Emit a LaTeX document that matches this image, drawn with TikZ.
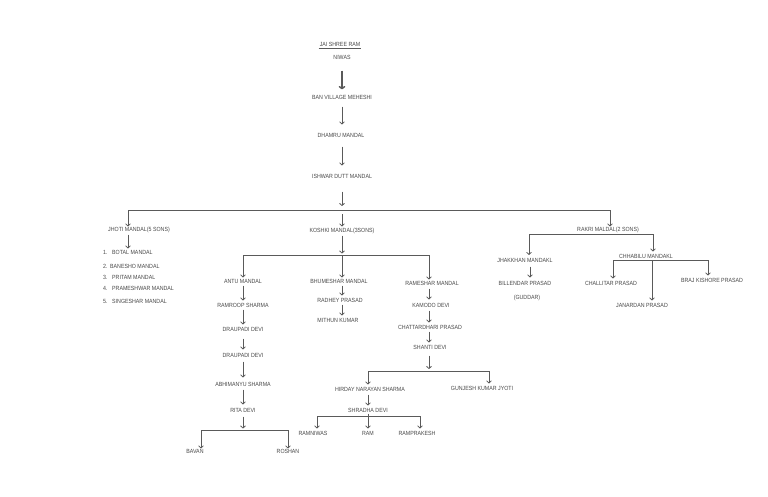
\documentclass[tikz,border=0pt]{standalone}
\usepackage{fontspec}
\setmainfont[FakeStretch=0.88]{Liberation Sans}
\usetikzlibrary{arrows.meta}
\definecolor{ink}{HTML}{474747}
\definecolor{wire}{HTML}{5A5A5A}
\begin{document}
\begin{tikzpicture}[x=1pt,y=-1pt,
  lbl/.style={font=\fontsize{6}{7}\selectfont, text=ink, inner sep=1pt, text height=4.4pt, text depth=0.4pt},
  ln/.style={draw=wire, line width=0.8pt},
  arr/.style={ln, -{To[length=3pt,width=5.5pt]}},
  bigarr/.style={ln, line width=1.4pt, -{To[length=3.5pt,width=6.5pt]}}]
\fill[white] (0,0) rectangle (768,496);
\useasboundingbox (0,0) rectangle (768,496);

% top chain
\node[lbl] (jai) at (340,44) {JAI SHREE RAM};
\draw[ln, line width=0.5pt] ([yshift=-0.6pt]jai.south west) -- ([yshift=-0.6pt]jai.south east);
\node[lbl] (niwas) at (342,57) {NIWAS};
\node[lbl] (ban) at (342,97) {BAN VILLAGE MEHESHI};
\node[lbl] (dham) at (341,135) {DHAMRU MANDAL};
\node[lbl] (ishwar) at (342,176) {ISHWAR DUTT MANDAL};
\draw[bigarr, shorten <=10pt, shorten >=4pt] (niwas.south) -- (niwas.south |- ban.north);
\draw[arr, shorten <=6pt, shorten >=7pt] (ban.south) -- (ban.south |- dham.north);
\draw[arr, shorten <=8pt, shorten >=7pt] (dham.south -| ban.south) -- (ban.south |- ishwar.north);

% first bar
\coordinate (b1l) at (128,210);
\coordinate (b1m) at (342,210);
\coordinate (b1r) at (610,210);
\draw[ln] (b1l) -- (b1r);
\draw[arr, shorten <=12pt, shorten >=4pt] (ishwar.south) -- (b1m);

\node[lbl] (jhoti) at (139,229) {JHOTI MANDAL(5 SONS)};
\node[lbl] (koshki) at (342,230) {KOSHKI MANDAL(3SONS)};
\node[lbl] (rakri) at (608,229) {RAKRI MALDAL(2 SONS)};
\draw[arr, shorten >=-1pt] (b1l) -- (b1l |- jhoti.north);
\draw[arr, shorten <=4pt] (b1m) -- (koshki.north);
\draw[arr, shorten >=-1pt] (b1r) -- (b1r |- rakri.north);

% Jhoti's sons
\node[lbl, anchor=west] (i1) at (102,252) {\makebox[9pt][l]{1.}BOTAL MANDAL};
\node[lbl, anchor=west] (i2) at (102,266) {\makebox[7pt][l]{2.}BANESHO MANDAL};
\node[lbl, anchor=west] (i3) at (102,277) {\makebox[9pt][l]{3.}PRITAM MANDAL};
\node[lbl, anchor=west] (i4) at (102,288) {\makebox[9pt][l]{4.}PRAMESHWAR MANDAL};
\node[lbl, anchor=west] (i5) at (102,301) {\makebox[9pt][l]{5.}SINGESHAR MANDAL};
\draw[arr, shorten <=2pt] (jhoti.south -| b1l) -- (b1l |- i1.north);

% Koshki's sons
\coordinate (b2l) at (243,255);
\coordinate (b2m) at (342,255);
\coordinate (b2r) at (429,255);
\draw[ln] (b2l) -- (b2r);
\draw[arr, shorten <=2pt, shorten >=1.5pt] (koshki.south) -- (b2m);
\node[lbl] (antu) at (243,281) {ANTU MANDAL};
\node[lbl] (bhum) at (339,281) {BHUMESHAR MANDAL};
\node[lbl] (rame) at (432,283) {RAMESHAR MANDAL};
\draw[arr] (b2l) -- (antu.north);
\draw[arr] (b2m) -- (b2m |- bhum.north);
\draw[arr] (b2r) -- (b2r |- rame.north);

% Antu line
\node[lbl] (ramroop) at (243,305) {RAMROOP SHARMA};
\node[lbl] (drau1) at (243,329) {DRAUPADI DEVI};
\node[lbl] (drau2) at (243,355) {DRAUPADI DEVI};
\node[lbl] (abhi) at (243,384) {ABHIMANYU SHARMA};
\node[lbl] (rita) at (243,410) {RITA DEVI};
\draw[arr, shorten <=1pt, shorten >=1pt] (antu.south) -- (ramroop.north);
\draw[arr, shorten <=1pt, shorten >=1pt] (ramroop.south) -- (drau1.north);
\draw[arr, shorten <=6pt, shorten >=2pt] (drau1.south) -- (drau2.north);
\draw[arr, shorten <=3pt, shorten >=3pt] (drau2.south) -- (abhi.north);
\draw[arr, shorten <=2pt, shorten >=2pt] (abhi.south) -- (rita.north);
\coordinate (b3l) at (201,430);
\coordinate (b3m) at (243,430);
\coordinate (b3r) at (288,430);
\draw[ln] (b3l) -- (b3r);
\draw[arr, shorten <=3pt, shorten >=1.5pt] (rita.south) -- (b3m);
\node[lbl] (bavan) at (195,451) {BAVAN};
\node[lbl] (roshan) at (288,451) {ROSHAN};
\draw[arr, shorten >=-1pt] (b3l) -- (b3l |- bavan.north);
\draw[arr, shorten >=-1pt] (b3r) -- (roshan.north);

% Bhumeshar line
\node[lbl] (radhey) at (340,300) {RADHEY PRASAD};
\node[lbl] (mithun) at (338,320) {MITHUN KUMAR};
\draw[arr, shorten <=1pt, shorten >=1pt] (bhum.south -| b2m) -- (b2m |- radhey.north);
\draw[arr, shorten <=1pt, shorten >=1pt] (radhey.south -| b2m) -- (b2m |- mithun.north);

% Rameshar line
\node[lbl] (kamodo) at (431,305) {KAMODO DEVI};
\node[lbl] (chatt) at (430,327) {CHATTARDHARI PRASAD};
\node[lbl] (shanti) at (430,347) {SHANTI DEVI};
\draw[arr, shorten <=2pt, shorten >=2pt] (rame.south -| b2r) -- (b2r |- kamodo.north);
\draw[arr, shorten <=2pt, shorten >=1pt] (kamodo.south -| b2r) -- (b2r |- chatt.north);
\draw[arr, shorten <=1pt, shorten >=1pt] (chatt.south -| b2r) -- (b2r |- shanti.north);
\coordinate (b4l) at (368,371);
\coordinate (b4m) at (429,371);
\coordinate (b4r) at (489,371);
\draw[ln] (b4l) -- (b4r);
\draw[arr, shorten <=5pt, shorten >=2pt] (shanti.south -| b4m) -- (b4m);
\node[lbl] (hirday) at (370,389) {HIRDAY NARAYAN SHARMA};
\node[lbl] (gunjesh) at (482,388) {GUNJESH KUMAR JYOTI};
\draw[arr, shorten >=1pt] (b4l) -- (b4l |- hirday.north);
\draw[arr, shorten >=1pt] (b4r) -- (b4r |- gunjesh.north);

% Hirday line
\node[lbl] (shradha) at (368,410) {SHRADHA DEVI};
\draw[arr, shorten <=2pt, shorten >=1pt] (hirday.south -| b4l) -- (b4l |- shradha.north);
\coordinate (b5l) at (317,416);
\coordinate (b5m) at (368,416);
\coordinate (b5r) at (420,416);
\draw[ln] (b5l) -- (b5r);
\node[lbl] (ramniwas) at (313,433) {RAMNIWAS};
\node[lbl] (ram) at (368,433) {RAM};
\node[lbl] (rampra) at (417,433) {RAMPRAKESH};
\draw[arr, shorten >=1pt] (shradha.south) -- (ram.north);
\draw[arr, shorten >=1pt] (b5l) -- (b5l |- ramniwas.north);
\draw[arr, shorten >=1pt] (b5r) -- (b5r |- rampra.north);

% Rakri's sons
\coordinate (b6l) at (529,234);
\coordinate (b6r) at (653,234);
\draw[ln] (b6l) -- (b6r);
\node[lbl] (jhak) at (525,260) {JHAKKHAN MANDAKL};
\node[lbl] (chhab) at (646,256) {CHHABILU MANDAKL};
\draw[arr, shorten >=1.5pt] (b6l) -- (b6l |- jhak.north);
\draw[arr, shorten >=1pt] (b6r) -- (b6r |- chhab.north);
\node[lbl] (bill) at (525,283) {BILLENDAR PRASAD};
\node[lbl] (guddar) at (527,297) {(GUDDAR)};
\coordinate (jx) at (530,260);
\draw[arr, shorten <=3pt, shorten >=2pt] (jhak.south -| jx) -- (jx |- bill.north);

\coordinate (b7l) at (613,260);
\coordinate (b7m) at (652,260);
\coordinate (b7r) at (708,260);
\draw[ln] (b7l) -- (b7r);
\node[lbl] (chall) at (611,283) {CHALLITAR PRASAD};
\node[lbl] (janar) at (642,305) {JANARDAN PRASAD};
\node[lbl] (braj) at (712,280) {BRAJ KISHORE PRASAD};
\draw[arr, shorten >=1pt] (b7l) -- (b7l |- chall.north);
\draw[arr, shorten >=1pt] (b7m) -- (b7m |- janar.north);
\draw[arr, shorten >=1pt] (b7r) -- (b7r |- braj.north);
\end{tikzpicture}
\end{document}
